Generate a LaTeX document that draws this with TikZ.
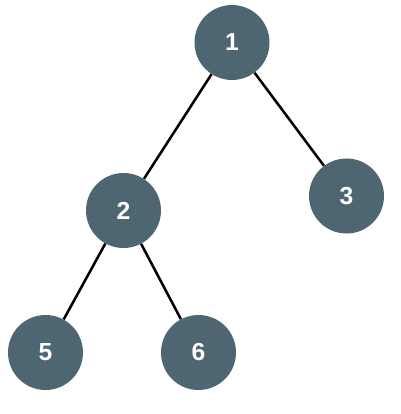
\documentclass[tikz,border=0pt]{standalone}
\usepackage{fontspec}
\setmainfont{Liberation Sans}
\usepackage{xcolor}
\definecolor{nodeslate}{RGB}{78,101,114}

\begin{document}
\begin{tikzpicture}[x=0.75pt,y=0.75pt,yscale=-1,xscale=1,
  treenode/.style={circle,fill=nodeslate,draw=none,minimum size=56.25pt,inner sep=0pt,text=white,font=\fontsize{18.5}{18.5}\selectfont\bfseries},
  treeedge/.style={draw=black,line width=1.9pt}]
%set diagram left start at 0, and has height of 414
\useasboundingbox (0,0) rectangle (400,414);

% Tree Nodes
\node [treenode] (n1) at (232,42.5) {1};
\node [treenode] (n2) at (123.5,210.5) {2};
\node [treenode] (n3) at (346.5,196) {3};
\node [treenode] (n5) at (45.5,352.5) {5};
\node [treenode] (n6) at (198.5,352.5) {6};

% Edges
\draw [treeedge] (n1) -- (n2);
\draw [treeedge] (n1) -- (n3);
\draw [treeedge] (n2) -- (n5);
\draw [treeedge] (n2) -- (n6);

\end{tikzpicture}
\end{document}
